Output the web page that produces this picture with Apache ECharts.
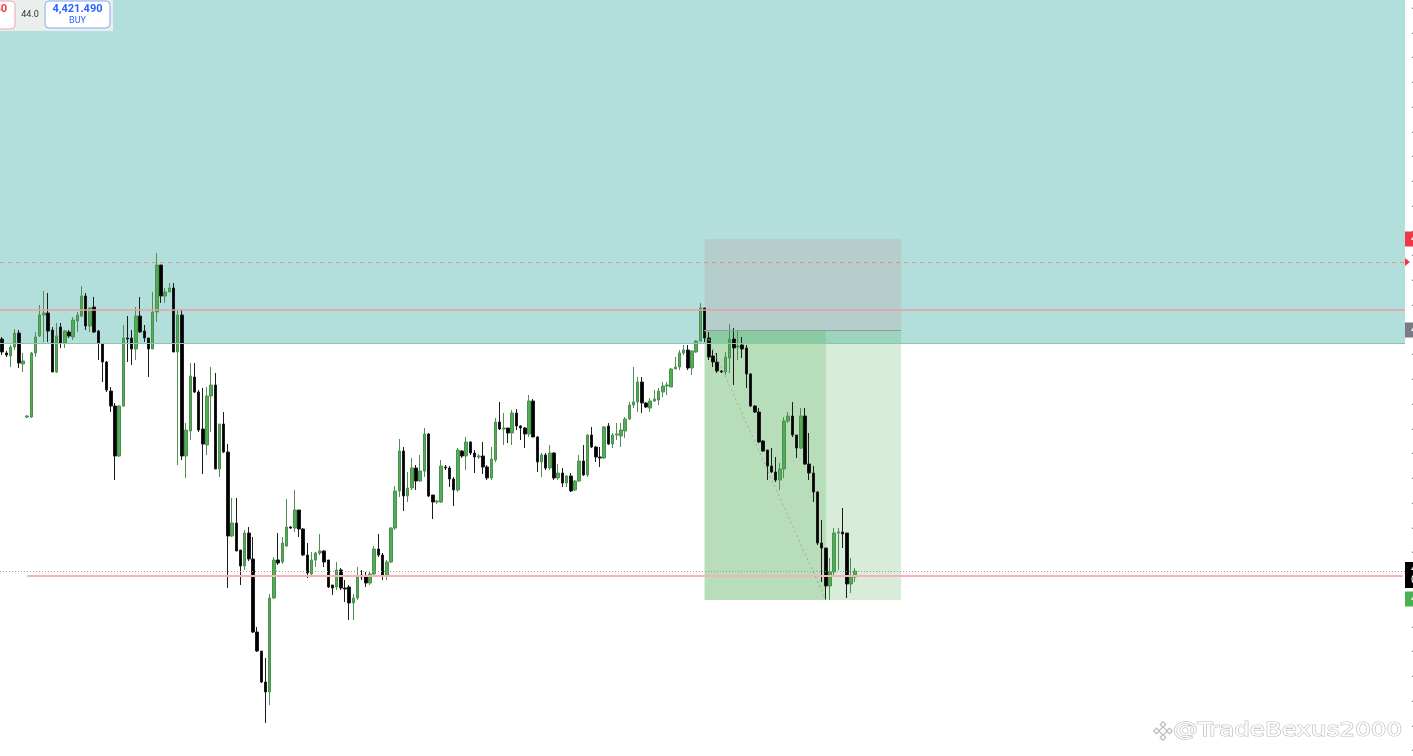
<!DOCTYPE html>
<html><head><meta charset="utf-8">
<script src="https://cdn.jsdelivr.net/npm/echarts@6/dist/echarts.min.js"></script>
<style>html,body{margin:0;padding:0;background:#fff;overflow:hidden}#c{width:1413px;height:756px}</style>
</head><body><div id="c"></div>
<script>
// ---- candle values (price) ----
const opens = [4468.0,4465.2,4464.6,4466.4,4469.2,4463.0,4452.4,4452.4,4465.2,4468.6,
4472.8,4473.2,4469.8,4461.4,4470.4,4467.2,4469.4,4468.4,4471.6,4472.6,
4476.6,4470.6,4474.4,4469.6,4467.0,4463.4,4457.6,4454.6,4444.6,4454.6,
4468.2,4468.2,4466.0,4472.6,4469.6,4468.2,4466.0,4473.4,4482.8,4476.6,
4477.4,4478.2,4465.4,4472.8,4444.6,4449.6,4460.4,4457.4,4450.0,4446.8,
4456.6,4458.8,4442.0,4451.0,4445.4,4428.6,4431.2,4425.8,4422.6,4429.2,
4424.0,4409.4,4405.6,4399.4,4397.4,4416.2,4423.8,4423.4,4426.6,4430.4,
4430.2,4433.8,4430.0,4424.8,4421.0,4423.8,4425.2,4425.6,4423.8,4418.8,
4418.4,4421.8,4418.2,4418.4,4415.2,4416.2,4420.8,4420.4,4419.2,4421.0,
4426.0,4424.8,4420.6,4423.4,4430.2,4437.6,4445.6,4436.6,4438.2,4442.2,
4439.6,4441.6,4449.0,4436.8,4435.4,4435.4,4442.4,4442.2,4440.0,4437.8,
4445.6,4444.6,4447.4,4445.2,4444.4,4444.6,4442.4,4440.2,4443.8,4451.4,
4450.0,4450.2,4449.2,4453.2,4450.6,4450.2,4449.0,4455.6,4448.4,4443.4,
4444.8,4442.2,4445.2,4440.2,4441.2,4439.2,4440.6,4437.8,4439.6,4443.6,
4440.8,4448.8,4446.4,4444.4,4444.2,4450.6,4447.0,4448.8,4448.6,4449.6,
4452.0,4454.8,4455.4,4459.4,4455.2,4454.2,4455.6,4455.8,4457.4,4458.6,
4458.4,4462.0,4462.4,4465.2,4465.8,4462.2,4465.4,4467.6,4474.2,4468.2,
4464.6,4463.4,4461.6,4461.4,4464.2,4468.0,4466.4,4466.8,4466.2,4461.0,
4454.6,4453.4,4447.6,4445.8,4442.6,4441.4,4439.8,4442.0,4451.6,4452.6,
4448.8,4446.2,4452.6,4443.0,4441.2,4437.4,4427.2,4426.2,4418.6,4421.4,
4429.2,4429.4,4429.2,4419.0,4420.4];
const closes = [4465.4,4464.8,4466.4,4469.2,4463.2,4463.6,4452.6,4465.2,4468.4,4472.8,
4473.2,4469.6,4461.4,4468.6,4467.2,4469.6,4468.6,4471.8,4472.8,4476.6,
4470.6,4474.2,4469.4,4467.2,4463.4,4457.8,4454.6,4444.6,4454.6,4468.2,
4468.0,4466.0,4472.6,4469.4,4468.2,4466.0,4473.4,4482.8,4476.6,4477.4,
4478.2,4465.4,4472.8,4444.6,4449.8,4460.6,4457.4,4449.8,4447.0,4456.6,
4458.8,4442.0,4451.0,4445.4,4428.6,4431.2,4425.6,4422.6,4429.2,4424.0,
4409.4,4405.6,4399.4,4397.4,4416.2,4423.8,4423.2,4427.2,4430.4,4430.2,
4433.8,4430.0,4424.8,4421.2,4423.8,4425.2,4425.6,4423.4,4418.4,4418.2,
4421.8,4418.2,4418.0,4415.2,4416.2,4420.4,4420.4,4419.2,4421.0,4426.0,
4424.8,4420.6,4423.4,4430.2,4437.6,4445.6,4436.6,4438.2,4442.2,4439.6,
4441.6,4449.0,4436.6,4435.4,4435.6,4442.6,4442.2,4440.0,4437.8,4445.8,
4444.6,4447.4,4445.2,4444.4,4444.6,4442.4,4440.2,4444.0,4451.4,4450.0,
4450.2,4449.2,4453.2,4450.6,4450.2,4449.0,4455.6,4448.4,4443.4,4444.8,
4442.2,4445.2,4440.2,4441.2,4439.2,4440.6,4437.6,4439.6,4443.6,4440.8,
4448.8,4446.4,4444.4,4444.2,4450.4,4447.0,4448.8,4449.0,4449.8,4452.0,
4454.8,4455.4,4459.4,4455.2,4454.4,4455.6,4456.0,4457.6,4458.6,4458.8,
4462.0,4462.4,4465.2,4465.8,4462.2,4465.6,4467.6,4474.2,4468.2,4464.4,
4463.4,4461.6,4461.4,4464.4,4468.0,4466.2,4466.6,4466.0,4461.0,4454.6,
4453.4,4447.4,4445.6,4442.6,4441.4,4439.8,4442.0,4451.6,4452.6,4448.8,
4446.2,4452.6,4443.0,4441.2,4437.4,4427.2,4426.2,4418.6,4421.4,4429.2,
4429.4,4429.0,4419.0,4420.6,4421.6];
const lows = [4464.8,4464.4,4462.4,4465.8,4462.2,4461.4,4452.2,4452.2,4464.4,4468.4,
4467.4,4467.4,4461.4,4461.2,4466.2,4466.2,4468.2,4467.8,4469.4,4472.4,
4469.8,4469.4,4469.2,4463.8,4459.4,4457.4,4453.4,4439.8,4444.4,4454.4,
4463.4,4462.8,4463.8,4469.2,4467.4,4460.4,4466.0,4471.4,4475.2,4475.2,
4477.4,4465.4,4442.8,4443.8,4440.2,4447.8,4457.2,4449.4,4441.0,4444.8,
4449.4,4442.0,4440.4,4445.2,4418.2,4428.4,4425.6,4418.8,4421.8,4423.6,
4409.2,4405.4,4399.2,4391.2,4394.8,4416.0,4422.8,4423.0,4426.4,4430.0,
4429.4,4428.4,4424.6,4420.2,4420.8,4422.4,4424.8,4422.4,4418.2,4416.8,
4417.8,4417.8,4415.4,4411.8,4411.8,4415.8,4419.8,4418.4,4418.8,4420.6,
4424.4,4419.8,4419.8,4423.2,4429.8,4436.4,4433.6,4435.4,4437.8,4437.8,
4439.4,4440.4,4436.4,4432.0,4435.0,4435.2,4441.8,4438.4,4434.6,4437.4,
4444.2,4441.8,4444.8,4441.2,4444.0,4441.0,4439.8,4439.8,4443.4,4449.8,
4446.8,4447.2,4446.8,4449.8,4447.8,4446.2,4448.4,4448.4,4441.4,4440.4,
4441.8,4441.8,4439.8,4439.8,4438.4,4438.4,4437.4,4437.6,4439.4,4440.6,
4440.4,4446.2,4443.4,4442.4,4444.0,4446.8,4446.2,4447.8,4446.4,4448.2,
4451.8,4454.2,4453.4,4453.2,4454.2,4453.4,4455.4,4454.8,4456.4,4456.8,
4458.4,4462.0,4461.8,4464.8,4461.8,4460.8,4465.2,4467.4,4467.4,4463.8,
4462.4,4461.2,4461.2,4460.8,4461.2,4458.8,4463.8,4464.2,4458.2,4454.4,
4453.2,4447.2,4445.4,4439.8,4441.2,4439.4,4437.8,4440.2,4451.2,4448.4,
4444.2,4446.0,4442.8,4439.8,4435.4,4426.8,4419.4,4415.8,4415.8,4420.8,
4421.8,4426.2,4416.2,4417.2,4419.4];
const highs = [4468.4,4465.6,4466.8,4470.0,4469.8,4465.2,4452.8,4465.4,4469.4,4474.8,
4477.6,4477.2,4470.4,4471.2,4471.2,4469.8,4469.8,4472.4,4473.4,4478.6,
4477.2,4474.4,4476.4,4469.8,4467.2,4463.6,4458.4,4455.2,4454.8,4470.8,
4472.6,4469.8,4474.4,4476.4,4470.8,4468.2,4477.4,4485.2,4482.8,4478.2,
4479.2,4479.2,4473.8,4473.8,4451.2,4463.2,4463.2,4457.8,4458.2,4458.4,
4462.4,4461.2,4451.0,4453.4,4447.0,4436.2,4436.2,4425.8,4429.8,4430.4,
4428.4,4410.4,4405.6,4404.2,4417.0,4424.4,4429.2,4428.4,4436.0,4430.6,
4437.8,4433.8,4430.2,4427.2,4425.4,4425.4,4429.0,4425.8,4423.8,4418.8,
4423.4,4422.2,4419.8,4418.8,4417.0,4422.4,4421.8,4421.4,4421.6,4426.6,
4429.0,4425.2,4423.8,4430.4,4438.6,4448.0,4446.4,4441.4,4444.2,4442.8,
4444.8,4450.2,4449.2,4436.8,4435.8,4443.8,4442.8,4442.6,4440.4,4446.2,
4445.8,4448.4,4447.6,4445.8,4445.0,4447.4,4442.8,4446.4,4452.2,4455.4,
4453.2,4450.2,4453.8,4454.0,4450.8,4450.4,4456.8,4456.0,4448.6,4445.2,
4445.2,4446.8,4445.4,4443.0,4442.2,4440.8,4441.2,4439.8,4444.8,4446.8,
4449.0,4450.4,4446.6,4446.4,4450.6,4451.2,4449.2,4451.2,4451.2,4452.4,
4455.4,4462.4,4460.4,4460.4,4455.4,4456.2,4457.8,4458.2,4459.4,4459.4,
4462.2,4464.4,4465.8,4466.8,4466.8,4465.8,4467.8,4475.2,4474.2,4469.4,
4465.8,4465.2,4461.8,4465.4,4471.0,4470.2,4469.8,4468.4,4466.8,4461.2,
4454.8,4454.2,4447.8,4445.8,4446.2,4444.4,4443.2,4452.4,4453.4,4455.4,
4448.8,4454.2,4454.2,4449.2,4442.6,4437.6,4431.8,4426.2,4424.2,4430.2,
4430.2,4434.2,4429.2,4424.2,4422.2];

// ---- price levels of the drawings ----
const zoneBottom = 4467.2;      // teal zone lower edge
const zoneTop = 4539.15;        // teal zone runs off the top
const alertLevel = 4483.4;      // red dashed line
const resistanceLevel = 4473.9; // red solid line
const lastPrice = 4421.6;       // current price (dotted)
const supportLevel = 4420.6;    // pink ray
const supportStartBar = 6;
const entryPrice = 4469.8, stopPrice = 4488.0, targetPrice = 4415.8;
const posStartBar = 168, posHitBar = 197, posEndBar = 215;
const buyPriceText = '4,421.490', sellPriceText = '4,421.050', spreadText = '44.0';
const countdownText = '00:41';
const watermarkText = '@TradeBexus2000';

// ---- axis settings ----
const slotCount = 336;
const categories = Array.from({length: slotCount}, (_, i) => String(i));
const axisMin = 4380.75, axisMax = 4539.15, axisStep = 4.95;

const fmt = v => Number(v).toLocaleString('en-US', {minimumFractionDigits: 3, maximumFractionDigits: 3});
const candles = opens.map((o, i) => [o, closes[i], lows[i], highs[i]]);

const chart = echarts.init(document.getElementById('c'), null, {renderer: 'canvas'});
const clear = 'rgba(0,0,0,0)';
const axisLabelBox = (bg, txt) => ({
  show: true, position: 'end', distance: 0, formatter: txt,
  color: '#fff', backgroundColor: bg, padding: [2, 6, 2, 6], fontSize: 11, fontFamily: 'Roboto', lineHeight: 11
});
const wmStyle = {fill: '#ffffff', stroke: '#bdbdbd', lineWidth: 1.2};
chart.setOption({
  animation: false,
  backgroundColor: '#ffffff',
  grid: {left: 0, right: 8, top: -16.75, bottom: -19.25, outerBoundsMode: 'none', containLabel: false},
  xAxis: {type: 'category', data: categories, boundaryGap: true, show: false},
  yAxis: {
    type: 'value', position: 'right', min: axisMin, max: axisMax, interval: axisStep,
    splitLine: {show: false}, axisLine: {show: false}, axisTick: {show: false},
    axisLabel: {margin: 7, fontSize: 11, color: '#555a66', fontFamily: 'Roboto', formatter: fmt}
  },
  series: [{
    type: 'candlestick',
    data: candles,
    barWidth: 3,
    z: 3,
    itemStyle: {color: '#4caf50', color0: '#000000', borderColor: '#4f8f53', borderColor0: '#1c1c1c', borderWidth: 1},
    markArea: {
      silent: true, z: 1,
      data: [
        [{yAxis: zoneBottom, itemStyle: {color: '#b2dfdb'}}, {yAxis: zoneTop}],
        [{coord: [posStartBar, entryPrice], itemStyle: {color: 'rgba(185,185,185,0.45)'}}, {coord: [posEndBar, stopPrice]}],
        [{coord: [posStartBar, targetPrice], itemStyle: {color: 'rgba(76,175,80,0.22)'}}, {coord: [posEndBar, entryPrice]}],
        [{coord: [posStartBar, targetPrice], itemStyle: {color: 'rgba(76,175,80,0.23)'}}, {coord: [posHitBar, entryPrice]}]
      ]
    },
    markPoint: {
      silent: true, label: {show: false},
      data: [{coord: [slotCount - 1, alertLevel], symbol: 'triangle', symbolSize: [8, 5], symbolRotate: -90,
        symbolOffset: [4.6, 0], itemStyle: {color: '#f23645'}}]
    },
    markLine: {
      silent: true, symbol: 'none', label: {show: false},
      data: [
        {yAxis: zoneBottom, lineStyle: {color: '#86c9a6', width: 1, type: 'solid'}},
        {yAxis: alertLevel, lineStyle: {color: '#f08a8a', width: 1, type: [4, 4]}},
        {yAxis: resistanceLevel, lineStyle: {color: '#e8a0a0', width: 1.5, type: 'solid'}},
        {yAxis: lastPrice, lineStyle: {color: '#9a9a9a', width: 1, type: [1, 2]},
          label: Object.assign(axisLabelBox('#000000', fmt(lastPrice) + '\n' + countdownText), {offset: [0, 4], padding: [2, 6, 2, 6], lineHeight: 11})},
        [{coord: [supportStartBar, supportLevel]}, {coord: [slotCount - 1, supportLevel]}],
        [{coord: [posStartBar, entryPrice], lineStyle: {color: '#9a9a9a', width: 1, type: 'solid'}}, {coord: [posEndBar, entryPrice]}],
        [{coord: [posStartBar, entryPrice], lineStyle: {color: '#a6a6a6', width: 1, type: [2, 3]}}, {coord: [posHitBar, targetPrice]}],
        {yAxis: stopPrice, lineStyle: {color: clear, width: 0}, label: axisLabelBox('#f23645', fmt(stopPrice))},
        {yAxis: entryPrice, lineStyle: {color: clear, width: 0}, label: axisLabelBox('#787b86', fmt(entryPrice))},
        {yAxis: targetPrice, lineStyle: {color: clear, width: 0}, label: Object.assign(axisLabelBox('#4caf50', fmt(targetPrice)), {offset: [0, -1]})}
      ],
      lineStyle: {color: '#f5b3b3', width: 2, type: 'solid'}
    }
  }],
  graphic: [
    {type: 'rect', z: 20, shape: {x: 0, y: 0, width: 113, height: 31}, style: {fill: '#eaefee'}},
    {type: 'rect', z: 21, shape: {x: -60, y: 1, width: 75, height: 28, r: 4}, style: {fill: '#ffffff', stroke: '#f6a4aa', lineWidth: 1}},
    {type: 'text', z: 22, x: 7, y: 9, style: {text: sellPriceText, align: 'right', verticalAlign: 'middle', fill: '#f23645', font: 'bold 11px Roboto'}},
    {type: 'text', z: 22, x: 30, y: 15, style: {text: spreadText, align: 'center', verticalAlign: 'middle', fill: '#333333', font: '9px Roboto'}},
    {type: 'rect', z: 21, shape: {x: 45, y: 1, width: 65, height: 27, r: 4}, style: {fill: '#ffffff', stroke: '#86a9f5', lineWidth: 1}},
    {type: 'text', z: 22, x: 77.5, y: 9.5, style: {text: buyPriceText, align: 'center', verticalAlign: 'middle', fill: '#2962ff', font: 'bold 11px Roboto'}},
    {type: 'text', z: 22, x: 77.5, y: 20.5, style: {text: 'BUY', align: 'center', verticalAlign: 'middle', fill: '#2962ff', font: '9px Roboto'}},
    // watermark: logo + handle
    {type: 'group', x: 1163, y: 731, z: 22, children: [
      {type: 'rect', rotation: Math.PI / 4, shape: {x: -3, y: -3, width: 6, height: 6}, style: wmStyle},
      {type: 'rect', x: -6.5, rotation: Math.PI / 4, shape: {x: -2, y: -2, width: 4, height: 4}, style: wmStyle},
      {type: 'rect', x: 6.5, rotation: Math.PI / 4, shape: {x: -2, y: -2, width: 4, height: 4}, style: wmStyle},
      {type: 'rect', y: -6.5, rotation: Math.PI / 4, shape: {x: -2, y: -2, width: 4, height: 4}, style: wmStyle},
      {type: 'rect', y: 6.5, rotation: Math.PI / 4, shape: {x: -2, y: -2, width: 4, height: 4}, style: wmStyle}
    ]},
    {type: 'text', z: 22, x: 1173, y: 731, scaleX: 1.23, style: Object.assign({text: watermarkText, align: 'left', verticalAlign: 'middle', font: '20px "DejaVu Sans"'}, wmStyle)}
  ]
});
</script></body></html>
